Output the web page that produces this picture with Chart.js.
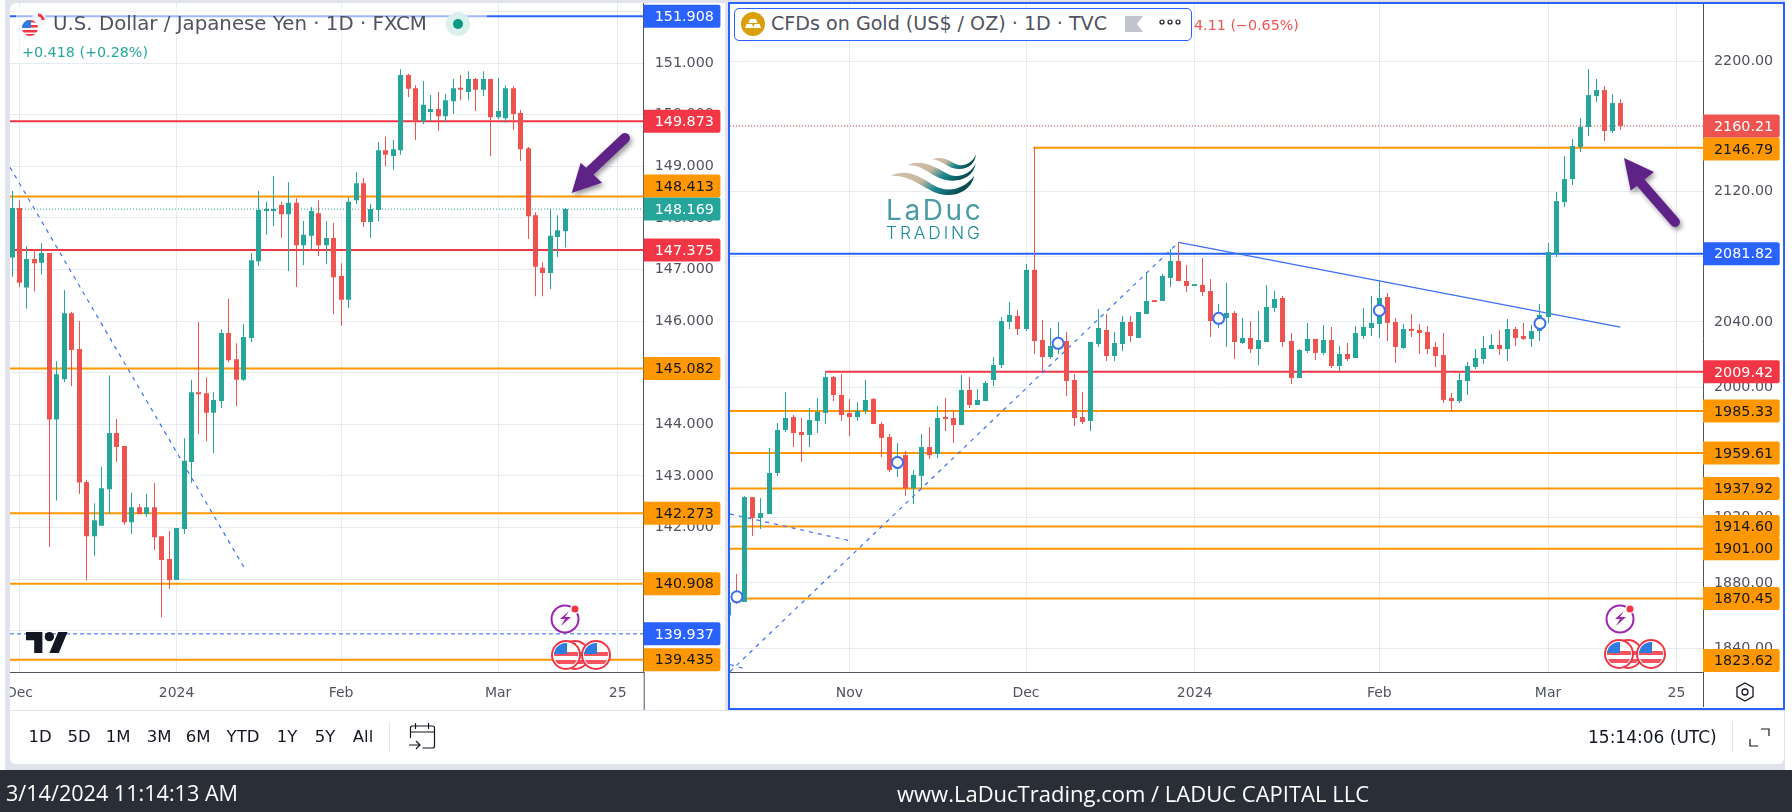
<!DOCTYPE html>
<html><head><meta charset="utf-8"><title>USDJPY and Gold daily charts</title>
<script src="https://cdn.jsdelivr.net/npm/chart.js@4/dist/chart.umd.js"></script>
<style>
html,body{margin:0;padding:0;width:1792px;height:812px;overflow:hidden;background:#fff;font-family:"DejaVu Sans",sans-serif}
.abs{position:absolute;white-space:nowrap}
canvas{position:absolute;display:block}
.rng{top:728px;font-size:16.5px;line-height:18px;color:#131722;transform:translateX(-50%)}
</style></head><body>
<div class="abs" style="left:5px;top:0;width:1780px;height:770px;background:#e0e3eb"></div>
<div class="abs" style="left:10px;top:3px;width:1774px;height:761px;background:#fff;border-radius:6px"></div>
<div class="abs" style="left:725px;top:0;width:3px;height:710px;background:#e0e3eb"></div>
<div class="abs" style="left:10px;top:710px;width:1774px;height:1px;background:#e0e3eb"></div>
<canvas id="usd" width="715" height="707" style="left:10px;top:3px"></canvas>
<canvas id="gold" width="1053" height="703" style="left:730px;top:4px"></canvas>
<div class="abs" style="left:728px;top:2px;width:1053px;height:704px;border:2px solid #2962ff"></div>

<!-- left legend -->
<div class="abs" style="left:16px;top:7px;width:471px;height:31px;background:rgba(255,255,255,.55)"></div>
<div class="abs" style="left:16px;top:40px;width:136px;height:23px;background:rgba(255,255,255,.55)"></div>
<div class="abs" id="t1" style="left:53px;top:13px;font-size:19.8px;line-height:22px;color:#50535e">U.S. Dollar / Japanese Yen · 1D · FXCM</div>
<div class="abs" id="t2" style="left:22px;top:43px;font-size:14.3px;line-height:18px;color:#26a69a">+0.418 (+0.28%)</div>
<svg class="abs" style="left:446px;top:12px" width="24" height="24"><circle cx="12" cy="12" r="12" fill="#d9f0ec"/><circle cx="12" cy="12" r="5" fill="#089981"/></svg>
<svg class="abs" style="left:18px;top:9px" width="32" height="32" viewBox="0 0 32 32"><circle cx="21" cy="10" r="7" fill="#f0f3fa"/><path d="M20 6a5 5 0 0 1 5 5" stroke="#f23645" stroke-width="3" fill="none"/><clipPath id="fc"><circle cx="12" cy="19" r="8"/></clipPath><g clip-path="url(#fc)"><rect x="4" y="11" width="16" height="16" fill="#fff"/><rect x="4" y="11" width="16" height="2.5" fill="#f23645"/><rect x="4" y="16" width="16" height="2.5" fill="#f23645"/><rect x="4" y="21" width="16" height="2.5" fill="#f23645"/><rect x="4" y="25" width="16" height="3" fill="#f23645"/><rect x="4" y="11" width="9" height="8" fill="#2f7de1"/></g></svg>

<!-- gold legend -->
<div class="abs" style="left:734px;top:8px;width:456px;height:31px;border:1.5px solid #2962ff;border-radius:5px;background:#fff"></div>
<svg class="abs" style="left:741px;top:12px" width="24" height="24" viewBox="0 0 24 24"><circle cx="12" cy="12" r="12" fill="#daa00c"/><path d="M9 7h6l1.5 4h-9zM4 16l1.5-4h5.5l1.5 4zM12 16l1.5-4h5l1.5 4z" fill="#fff"/></svg>
<div class="abs" id="t3" style="left:771px;top:13px;font-size:19.1px;line-height:22px;color:#50535e">CFDs on Gold (US$ / OZ) · 1D · TVC</div>
<svg class="abs" style="left:1125px;top:16px" width="60" height="18"><path d="M0 0h18l-6 8 6 8H0z" fill="#c1c4cd"/><g fill="none" stroke="#131722" stroke-width="1.2"><circle cx="37" cy="6" r="2"/><circle cx="45" cy="6" r="2"/><circle cx="53" cy="6" r="2"/></g></svg>
<div class="abs" id="t4" style="left:1194px;top:16px;font-size:14.3px;line-height:18px;color:#ef5350">4.11 (−0.65%)</div>

<!-- logo -->
<svg class="abs" style="left:720px;top:0" width="420" height="245" viewBox="0 0 1260 735">
<defs><linearGradient id="wg" x1="0" y1="0" x2="1" y2="0.3"><stop offset="0" stop-color="#d3bfa8"/><stop offset=".42" stop-color="#c8b8a0"/><stop offset=".68" stop-color="#1d8790"/><stop offset="1" stop-color="#074a50"/></linearGradient></defs>
<path fill="url(#wg)" d="M513 527C560 505 600 530 640 555C680 580 730 570 763 527C750 585 680 600 630 570C590 548 560 525 513 527Z"/>
<path fill="url(#wg)" d="M563 495C610 475 650 505 690 525C720 535 755 520 767 490C760 540 700 555 650 530C620 515 600 495 563 495Z"/>
<path fill="url(#wg)" d="M637 478C670 465 690 485 715 495C735 500 760 485 768 463C765 500 730 515 695 503C675 495 660 480 637 478Z"/>
<text x="498" y="660" font-family="Inter" font-size="84" fill="#4a9aa5" textLength="284" lengthAdjust="spacing">LaDuc</text>
<text x="498" y="716" font-family="Inter" font-weight="300" font-size="52" fill="#1f8a9a" textLength="282" lengthAdjust="spacing">TRADING</text>
</svg>

<!-- arrows and icons -->
<svg class="abs" style="left:0;top:0" width="1792" height="812">
<defs><filter id="sh" x="-30%" y="-30%" width="160%" height="160%"><feDropShadow dx="2" dy="3" stdDeviation="2.5" flood-color="#000" flood-opacity=".4"/></filter>
<symbol id="flag" viewBox="0 0 30 30"><clipPath id="fl"><circle cx="15" cy="15" r="12"/></clipPath><circle cx="15" cy="15" r="14" fill="#fff" stroke="#f23645" stroke-width="2"/><g clip-path="url(#fl)"><rect x="3" y="12" width="24" height="4" fill="#f7525f"/><rect x="3" y="20" width="24" height="4" fill="#f7525f"/><rect x="3" y="3" width="13" height="11" fill="#2f7de1"/></g></symbol>
<symbol id="bolt" viewBox="0 0 32 32"><circle cx="15" cy="17" r="13.5" fill="#fff" stroke="#9c27b0" stroke-width="2"/><circle cx="25" cy="7" r="5" fill="#fff"/><circle cx="25" cy="7" r="3.5" fill="#f23645"/><path d="M19 9l-9 8h5l-4 7 10-9h-6z" fill="#9c27b0"/></symbol></defs>
<g filter="url(#sh)" fill="#5e2286" stroke="#5e2286">
<path d="M625 138L590 171" stroke-width="10" stroke-linecap="round"/><path d="M571.7 193L580.7 162.7L602 182.7Z" stroke-width="0"/>
<path d="M1675 222L1641 183" stroke-width="10" stroke-linecap="round"/><path d="M1624 158L1654 172L1630.7 190.7Z" stroke-width="0"/>
</g>
<use href="#bolt" x="550" y="602" width="32" height="32"/><use href="#bolt" x="1605" y="602" width="32" height="32"/>
<use href="#flag" x="560" y="640" width="30" height="30"/><use href="#flag" x="581" y="640" width="30" height="30"/><use href="#flag" x="551" y="640" width="30" height="30"/>
<use href="#flag" x="1613" y="639" width="30" height="30"/><use href="#flag" x="1636" y="639" width="30" height="30"/><use href="#flag" x="1604" y="639" width="30" height="30"/>
<g transform="translate(26 632) scale(1.17)" fill="#131722"><path d="M14 18H7V7H0V0h14zM28 18h-8L27.5 0h8z"/><circle cx="20" cy="4" r="4"/></g>
<path d="M1745 683l8 4.500v9l-8 4.500l-8-4.500v-9z" fill="none" stroke="#131722" stroke-width="1.300"/><circle cx="1745" cy="692" r="3" fill="none" stroke="#131722" stroke-width="1.300"/>
<rect x="389" y="722" width="1" height="30" fill="#e0e3eb"/><rect x="1732" y="722" width="1" height="30" fill="#e0e3eb"/>
<g fill="none" stroke="#131722" stroke-width="1.200"><path d="M1750 739v7h8M1769 736v-7h-8"/><path d="M410.500 738v-10a2 2 0 0 1 2-2h20a2 2 0 0 1 2 2v18a2 2 0 0 1-2 2h-10M415.500 723v6M428.500 723v6M410.500 732h24M409 745h11M416 741l4 4-4 4"/></g>
</svg>

<!-- range toolbar -->
<div class="abs rng" style="left:40px">1D</div><div class="abs rng" style="left:79px">5D</div><div class="abs rng" style="left:118px">1M</div><div class="abs rng" style="left:159px">3M</div><div class="abs rng" style="left:198px">6M</div><div class="abs rng" style="left:243px">YTD</div><div class="abs rng" style="left:287px">1Y</div><div class="abs rng" style="left:325px">5Y</div><div class="abs rng" style="left:363px">All</div>
<div class="abs" id="t5" style="left:1588px;top:728px;font-size:17px;line-height:18px;color:#131722">15:14:06 (UTC)</div>

<div class="abs" style="left:0;top:770px;width:1792px;height:42px;background:#2a2f37"></div>
<div class="abs" id="t6" style="left:6px;top:781px;font-family:'Open Sans';font-size:21.6px;line-height:24px;color:#fff">3/14/2024 11:14:13 AM</div>
<div class="abs" id="t7" style="left:897px;top:781px;font-family:'Open Sans';font-size:22px;line-height:24px;color:#fff">www.LaDucTrading.com / LADUC CAPITAL LLC</div>

<script>
// ---------- USD/JPY daily candles ----------
const usdOpen=[147.23,148.19,146.65,147.20,147.13,147.32,144.09,144.87,146.15,145.46,142.88,141.83,142.03,142.74,143.83,143.58,142.10,142.39,142.26,142.39,141.83,141.39,140.98,141.97,143.27,144.62,144.60,144.22,144.45,145.77,145.26,144.86,145.67,147.16,148.13,148.13,148.25,148.07,148.29,147.47,147.65,148.09,147.47,147.61,146.87,146.41,148.34,148.67,147.92,148.15,149.31,149.20,149.31,150.77,150.51,149.87,150.05,150.11,149.97,150.26,150.51,150.44,150.69,150.48,150.69,149.95,149.93,150.51,150.03,149.35,148.05,147.03,146.93,147.63,147.74];
const usdHigh=[148.52,148.34,147.45,147.39,147.51,147.32,145.22,146.60,146.18,146.00,142.92,142.47,143.17,144.95,144.10,143.58,142.67,142.45,142.65,142.86,141.83,141.93,141.99,143.73,144.86,145.98,144.91,144.62,145.84,146.43,145.57,145.94,147.32,148.52,148.31,148.81,148.31,148.69,148.38,147.94,148.21,148.34,147.94,147.90,147.12,148.40,148.89,148.77,148.27,149.47,149.57,149.51,150.88,150.79,150.57,150.65,150.38,150.44,150.40,150.69,150.77,150.84,150.71,150.84,150.69,150.71,150.57,150.55,150.09,149.37,148.11,147.14,148.17,148.05,148.19];
const usdLow=[146.86,146.66,146.24,146.57,146.90,141.62,142.52,144.82,144.74,142.65,140.97,141.45,142.03,142.26,143.27,142.05,141.87,142.26,142.20,141.56,140.26,140.81,140.98,141.87,142.86,143.81,143.67,143.44,144.31,145.20,144.35,144.84,145.59,147.07,147.67,147.84,147.61,146.97,146.66,147.08,147.39,147.26,147.10,146.13,145.91,146.25,148.27,147.82,147.61,147.94,149.00,148.93,149.22,150.34,149.51,149.82,149.87,149.68,149.86,150.01,150.28,150.28,150.07,150.36,149.20,149.91,149.84,149.70,149.10,147.59,146.48,146.48,146.62,147.24,147.43];
const usdClose=[148.19,146.74,147.20,147.12,147.32,144.09,144.97,146.15,145.44,142.87,141.83,142.14,142.76,143.83,143.56,142.10,142.39,142.26,142.39,141.81,141.37,140.98,141.99,143.29,144.62,144.58,144.22,144.47,145.77,145.24,144.86,145.69,147.18,148.15,148.15,148.16,148.07,148.29,147.47,147.67,148.13,147.47,147.61,146.85,146.41,148.31,148.67,147.92,148.17,149.31,149.22,149.33,150.77,150.50,149.87,150.19,150.11,149.97,150.28,150.51,150.48,150.69,150.48,150.69,149.95,150.07,150.51,150.01,149.33,148.03,147.05,146.93,147.65,147.76,148.17];
const usdTickIdx=[1,22,44,65,81];
const usdTickLabels=['Dec','2024','Feb','Mar','25'];
const usdLevels=[151.908,149.873,148.413,147.375,145.082,142.273,140.908,139.937,139.435];
const usdLevelKinds=['blue','red','orange','red','orange','orange','orange','dash','orange'];
const usdLast=148.169;
const usdTrendA=[{x:-0.27,y:148.98},{x:31,y:141.23}];

// ---------- Gold daily candles ----------
const goldOpen=[1860,1872,1868.3,1932.6,1919.8,1922.2,1947.4,1973.8,1981.7,1972.5,1970.7,1979.3,1984.2,2006.2,1995.2,1984.2,1981.7,1985.4,1992.8,1977.4,1969.5,1950,1958.4,1938,1945.6,1963.3,1959,1980.9,1981.1,1976.8,1998.3,1989.1,1991.5,2004.4,2013.6,2040,2043.7,2035.7,2071.9,2028.9,2018.5,2025,2028.3,2004.4,1981.7,1979.3,2026.5,2035.1,2019.1,2026.5,2040,2030.2,2044.9,2052.9,2052.9,2067,2077.4,2065.1,2062,2062.7,2059,2039,2042.4,2045.5,2027.1,2030.2,2023.4,2027.7,2048.6,2054.7,2028.3,2005.6,2022.2,2029.6,2021,2028.9,2013,2020.4,2017.9,2031.4,2036.3,2038.8,2055.3,2040,2024,2035.7,2035.1,2033.9,2024.7,2019.7,1993.4,1991.5,2003.8,2012.4,2017.3,2023.4,2025.9,2023.4,2035.7,2031.4,2029.6,2034.4,2043,2081.7,2113.5,2127.6,2147.3,2159.5,2178.5,2182.2,2157.1,2174.2];
const goldHigh=[1869,1885.4,1933.3,1932.6,1932,1962.7,1978,1997.1,1983,1981.1,1987.3,1993.4,2009.3,2006.9,2008.1,1992.8,1990.9,2004.4,1993.4,1978.7,1971.3,1965.8,1960.9,1949.2,1971.3,1975.6,1988.5,1993.4,1985.4,2007.5,2006.3,1998.9,2003.8,2018.5,2043,2052.2,2047.3,2075.6,2146.8,2041.2,2036.3,2040,2033.9,2008.1,1997.1,2027.7,2048,2044.9,2033.9,2043.7,2043.6,2046.1,2070.6,2052.9,2069.4,2084.7,2088.8,2074.9,2062.7,2079.2,2066.4,2051,2063.9,2046.7,2042.4,2040.6,2046.7,2062.7,2059,2055.9,2033.2,2023.4,2039.4,2029.6,2038.1,2036.9,2025.3,2027.1,2037.5,2048.6,2055.9,2065.7,2057.8,2042.4,2038.8,2044.9,2038.8,2037.5,2027.7,2033.2,1996.4,2008.7,2015.5,2023.4,2031.4,2032.6,2035.1,2041.8,2036.9,2039.4,2038.1,2051,2088.4,2119.7,2141.7,2152.2,2165,2195.1,2189,2184.7,2179.8,2176.7];
const goldLow=[1860,1867,1868.3,1908.7,1913,1922.2,1945.6,1972.5,1963.3,1954.1,1963.3,1971.9,1977.4,1991.5,1979.3,1970.1,1979.3,1983.6,1977.4,1957.2,1948,1944.9,1933.3,1928.4,1938.2,1956,1956.6,1973.1,1965.8,1976.8,1987.3,1989.1,1991.5,2000.7,2011.8,2035.7,2032,2034.5,2020.4,2009.3,2017.3,2020.4,1994.6,1976.2,1977.4,1973.1,2024.7,2016.1,2016.1,2022.2,2027.7,2030.2,2044.9,2052.2,2052.9,2061.4,2065.1,2058.4,2062,2055.9,2030.8,2036.3,2024.7,2017.3,2026.5,2021,2013.6,2027.7,2046.1,2024.7,2002,2005.6,2021,2016.7,2019.8,2011.8,2009.9,2016.1,2017.9,2029.6,2031.4,2030.2,2028.3,2014.8,2023.4,2030.8,2020.4,2020.4,2012.4,1990.3,1985,1990.3,1995.2,2011.2,2014.2,2023.4,2019.8,2016.1,2025.3,2028.9,2024.7,2028.3,2039.3,2079.8,2110.5,2124,2144.2,2154,2174.9,2150.9,2155.9,2157.7];
const goldClose=[1868,1869,1932.6,1919.8,1922.8,1947.4,1973.8,1981.1,1971.9,1970.7,1979.9,1984.8,2006.2,1995.2,1982.9,1981.7,1985.4,1992.2,1977.4,1968.9,1949.2,1957.5,1938,1946.2,1963.3,1958.4,1981.1,1980.5,1976.8,1998.3,1989.1,1992.2,2002.6,2013.6,2040.6,2044.3,2035.7,2071.9,2028.3,2018.5,2025.3,2029,2003.8,1981.1,1978.7,2027.7,2036.3,2019.1,2027.1,2040,2031.4,2046.1,2052.9,2052.2,2068.2,2077.4,2065.1,2062,2062.7,2058.4,2040.6,2043,2045.5,2027.7,2030.2,2023.4,2028.9,2049.2,2054.1,2027.7,2005.6,2022.8,2029.6,2021,2028.9,2013,2020.4,2017.3,2033.2,2036.9,2039.4,2054.7,2039.4,2024.7,2035.7,2034.5,2033.2,2023.4,2019.1,1992.2,1991.5,2004.4,2013,2017.9,2024,2025.9,2023.4,2035.7,2030.2,2029.6,2034.4,2044.3,2082.9,2114.1,2127.6,2147.9,2159.5,2179.1,2182.2,2157.1,2174.2,2160.2];
const goldTickIdx=[15,37,58,81,102,118];
const goldTickLabels=['Nov','Dec','2024','Feb','Mar','25'];
const goldLevels=[2146.79,2081.82,2009.42,1985.33,1959.61,1937.92,1914.60,1901.00,1870.45,1823.62];
const goldLevelKinds=['orange','blue','red','orange','orange','orange','orange','orange','orange','orange'];
const goldLevelStart=[37.9,0,12,0,0,0,0,0,2,0];
const goldLast=2160.21;
const goldTrendUp=[{x:0.14,y:1825.6},{x:56,y:2088.8}];
const goldTrendDown=[{x:56,y:2088.8},{x:111,y:2036.9}];
const goldTrendShort=[{x:0.14,y:1922.3},{x:15.2,y:1905.7}];
const goldTrendLow=[{x:0.14,y:1830},{x:1.8,y:1827.6}];
const goldMarkIdx=[1,21,41,61,81,101];
const goldMarkVal=[1871.5,1953.9,2026.9,2042.2,2047.1,2039.1];

const UP='#26a69a',DOWN='#ef5350',AXIS='#50535e',GRID='#e4ebf1';
const KIND={red:'#f23645',orange:'#ff9800',blue:'#2962ff',dash:'#2962ff'};
const TAGH=23,TAGW=76.7;

const snapBars={id:'snapBars',beforeDatasetsDraw(chart){
  chart.getSortedVisibleDatasetMetas().forEach(m=>{ if(m.type==='bar') m.data.forEach(el=>{el.x=Math.floor(el.x)+0.5;}); });
}};
const priceTags={id:'priceTags',afterDraw(chart,args,o){
  const {ctx,chartArea:a,scales:{y}}=chart;
  ctx.save();
  ctx.strokeStyle=AXIS;ctx.lineWidth=1;ctx.beginPath();ctx.moveTo(a.right+.5,a.bottom);ctx.lineTo(a.right+.5,chart.height);ctx.stroke();
  const clampY=p=>Math.max(a.top+TAGH/2,Math.min(a.bottom-TAGH/2,p));
  const lastY=clampY(y.getPixelForValue(o.last));
  const tags=o.levels.map((v,i)=>{
    let c=clampY(y.getPixelForValue(v));
    if(Math.abs(c-lastY)<TAGH) c=c<lastY?lastY-TAGH:lastY+TAGH;
    return {c,text:v.toFixed(o.dec),bg:KIND[o.kinds[i]],fg:o.kinds[i]==='orange'?'#131722':'#fff'};
  });
  tags.push({c:lastY,text:o.last.toFixed(o.dec),bg:o.lastColor,fg:'#fff'});
  ctx.font='14.3px "DejaVu Sans"';ctx.textBaseline='middle';ctx.textAlign='left';
  tags.forEach(t=>{
    ctx.fillStyle=t.bg;ctx.beginPath();ctx.roundRect(a.right,t.c-TAGH/2,TAGW,TAGH,[0,2,2,0]);ctx.fill();
    ctx.fillStyle=t.fg;ctx.fillText(t.text,a.right+11,t.c+1);
  });
  ctx.restore();
}};

function levelLine(v,kind,x0,x1){
  const dash=kind==='dash';
  return {type:'line',order:5,data:[{x:x0,y:v},{x:x1,y:v}],borderColor:KIND[kind],borderWidth:dash?1:2,borderDash:dash?[4,3]:[],pointRadius:0,tension:0,fill:false};
}
function trend(pts,dashed){
  return {type:'line',order:4,data:pts,borderColor:'#3d6ff5',borderWidth:dashed?1.2:1.3,borderDash:dashed?[4,5]:[],pointRadius:0,tension:0,fill:false};
}
function candleChart(id,s){
  const n=s.open.length,idx=Array.from({length:n},(_,i)=>i);
  const colors=idx.map(i=>s.close[i]>=s.open[i]?UP:DOWN);
  const datasets=[
    {type:'bar',order:2,grouped:false,barThickness:1,inflateAmount:0,borderWidth:0,backgroundColor:colors,
      data:idx.map(i=>({x:i,y:[s.low[i],s.high[i]]}))},
    {type:'bar',order:1,grouped:false,barThickness:5,inflateAmount:0,borderWidth:0,minBarLength:2,backgroundColor:colors,
      data:idx.map(i=>({x:i,y:[s.open[i],s.close[i]]}))},
    {type:'line',order:6,data:[{x:s.xMin,y:s.last},{x:s.xMax,y:s.last}],borderColor:s.lastColor,borderWidth:1,borderDash:[1,2],pointRadius:0,fill:false},
    ...s.extra
  ];
  return new Chart(document.getElementById(id),{
    type:'bar',data:{datasets},plugins:[snapBars,priceTags],
    options:{responsive:false,animation:false,events:[],layout:{padding:0,autoPadding:false},
      plugins:{legend:{display:false},tooltip:{enabled:false},priceTags:{levels:s.levels,kinds:s.kinds,last:s.last,lastColor:s.lastColor,dec:s.dec}},
      scales:{
        x:{type:'linear',offset:false,min:s.xMin,max:s.xMax,
          grid:{offset:false,color:GRID,drawTicks:false},border:{color:AXIS,display:true},
          afterBuildTicks:sc=>{sc.ticks=s.tickIdx.map(v=>({value:v}));},
          ticks:{autoSkip:false,maxRotation:0,padding:13,color:AXIS,font:{family:'DejaVu Sans',size:14},
            callback:v=>s.tickLabels[s.tickIdx.indexOf(v)]},
          afterFit:sc=>{sc.height=s.xAxisH;sc.paddingLeft=0;sc.paddingRight=0;}},
        y:{type:'linear',position:'right',beginAtZero:false,min:s.yMin,max:s.yMax,
          grid:{color:GRID,drawTicks:false},border:{color:AXIS,display:true},
          ticks:{stepSize:s.step,includeBounds:false,autoSkip:false,padding:11,color:AXIS,font:{family:'DejaVu Sans',size:14.3},
            callback:v=>v.toFixed(s.dec)},
          afterFit:sc=>{sc.width=s.yAxisW;sc.paddingTop=0;sc.paddingBottom=0;}}
      }}
  });
}

const usdXMin=-0.27,usdXMax=84.47;
candleChart('usd',{open:usdOpen,high:usdHigh,low:usdLow,close:usdClose,tickIdx:usdTickIdx,tickLabels:usdTickLabels,
  xMin:usdXMin,xMax:usdXMax,yMin:139.198,yMax:152.163,step:1,dec:3,xAxisH:38,yAxisW:81.3,
  levels:usdLevels,kinds:usdLevelKinds,last:usdLast,lastColor:UP,
  extra:[...usdLevels.map((v,i)=>levelLine(v,usdLevelKinds[i],usdXMin,usdXMax)),trend(usdTrendA,true)]});

const goldXMin=0.14,goldXMax=121.3;
candleChart('gold',{open:goldOpen,high:goldHigh,low:goldLow,close:goldClose,tickIdx:goldTickIdx,tickLabels:goldTickLabels,
  xMin:goldXMin,xMax:goldXMax,yMin:1825.38,yMax:2234.95,step:40,dec:2,xAxisH:35,yAxisW:80,
  levels:goldLevels,kinds:goldLevelKinds,last:goldLast,lastColor:DOWN,
  extra:[...goldLevels.map((v,i)=>levelLine(v,goldLevelKinds[i],Math.max(goldXMin,goldLevelStart[i]),goldXMax)),
    trend(goldTrendUp,true),trend(goldTrendDown,false),trend(goldTrendShort,true),trend(goldTrendLow,true),
    {type:'line',order:0,showLine:false,data:goldMarkIdx.map((x,i)=>({x,y:goldMarkVal[i]})),pointRadius:5.5,pointBorderWidth:2,pointBackgroundColor:'#fff',pointBorderColor:'#3d6ff5'}]});
</script>
</body></html>
